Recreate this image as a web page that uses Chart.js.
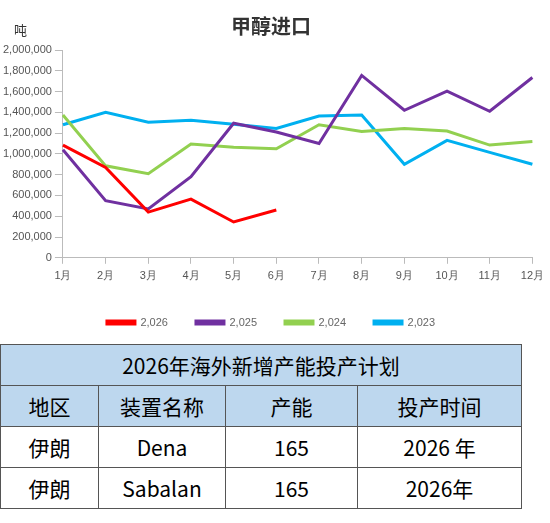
<!DOCTYPE html>
<html><head><meta charset="utf-8">
<script src="https://cdn.jsdelivr.net/npm/chart.js@4"></script>
<style>
body{margin:0;width:550px;height:523px;background:#fff;font-family:"Noto Sans CJK SC","Noto Sans",sans-serif;position:relative;overflow:hidden}
#wrap{position:absolute;left:0;top:0;width:550px;height:340px}
#unit{position:absolute;left:14px;top:20px;font-size:13px;color:#333}
table{position:absolute;left:0;top:344px;width:522px;border-collapse:collapse;font-size:21px;color:#000}
td{border:1px solid #555;height:40px;text-align:center;padding:0;line-height:40px}
.h{background:#bdd7ee}
</style></head><body>
<div id="wrap"><canvas id="c" width="550" height="340"></canvas></div>
<div id="unit">吨</div>
<table>
<tr class="h"><td colspan="4">2026年海外新增产能投产计划</td></tr>
<tr class="h"><td style="width:97px">地区</td><td style="width:126px">装置名称</td><td style="width:131px">产能</td><td>投产时间</td></tr>
<tr><td>伊朗</td><td>Dena</td><td>165</td><td>2026 年</td></tr>
<tr><td>伊朗</td><td>Sabalan</td><td>165</td><td>2026年</td></tr>
</table>
<script>
const months=["1月","2月","3月","4月","5月","6月","7月","8月","9月","10月","11月","12月"];
const s2026=[1085000,870000,440000,565000,345000,460000];
const s2025=[1040000,550000,470000,780000,1295000,1210000,1100000,1755000,1420000,1605000,1410000,1735000];
const s2024=[1375000,885000,810000,1095000,1065000,1050000,1280000,1215000,1245000,1220000,1085000,1120000];
const s2023=[1280000,1400000,1305000,1325000,1285000,1245000,1365000,1375000,900000,1130000,1015000,900000];
const mk=(l,d,c)=>({label:l,data:d,borderColor:c,backgroundColor:c,borderWidth:3,pointRadius:0,tension:0});
new Chart(document.getElementById('c'),{type:'line',
data:{labels:months,datasets:[mk('2,026',s2026,'#ff0000'),mk('2,025',s2025,'#7030a0'),mk('2,024',s2024,'#92d050'),mk('2,023',s2023,'#00b0f0')]},
options:{responsive:false,animation:false,devicePixelRatio:1,
layout:{padding:{left:0,right:8,top:0,bottom:2}},
plugins:{title:{display:true,text:'甲醇进口',font:{size:20,family:'"Noto Sans CJK SC"',weight:'bold'},color:'#333',padding:{top:14,bottom:12}},
legend:{position:'bottom',labels:{boxWidth:28,boxHeight:3,font:{size:11},color:'#666',padding:28}}},
scales:{x:{grid:{drawOnChartArea:false,color:'#bbb',tickLength:6},border:{color:'#bbb'},ticks:{color:'#555',font:{size:11},padding:6}},
y:{min:0,max:2000000,ticks:{stepSize:200000,color:'#555',font:{size:11}},grid:{drawOnChartArea:false,color:'#bbb'},border:{color:'#bbb'}}}}});
</script>
</body></html>
